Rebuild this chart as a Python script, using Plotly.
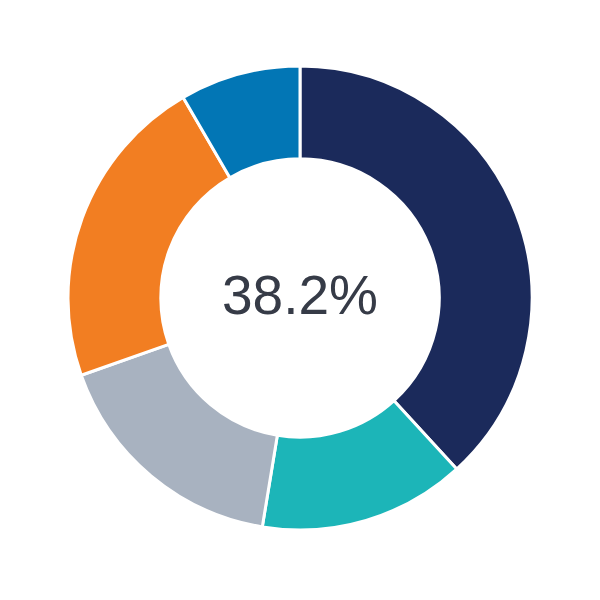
import plotly.graph_objects as go

# Slice data (clockwise from 12 o'clock)
labels = ["A", "B", "C", "D", "E"]
values = [38.2, 14.4, 17.0, 22.0, 8.4]
colors = ["#1B2A5B", "#1CB5B8", "#A8B2C0", "#F27E22", "#0276B5"]

fig = go.Figure()

fig.add_trace(go.Pie(
    labels=labels,
    values=values,
    hole=0.6,
    sort=False,
    direction="clockwise",
    rotation=0,
    marker=dict(colors=colors, line=dict(color="white", width=3)),
    textinfo="none",
    hoverinfo="label+percent",
    showlegend=False,
))

fig.update_layout(
    width=600, height=600,
    margin=dict(l=60, r=76, t=58, b=78),
    paper_bgcolor="white",
    plot_bgcolor="white",
    annotations=[dict(
        text=f"{values[0]}%", x=0.5, y=0.5, xref="paper", yref="paper",
        showarrow=False, yshift=3,
        font=dict(family="Liberation Sans, Arial, sans-serif", size=55, color="#363b47"),
    )],
)

fig.write_html("out.html")
